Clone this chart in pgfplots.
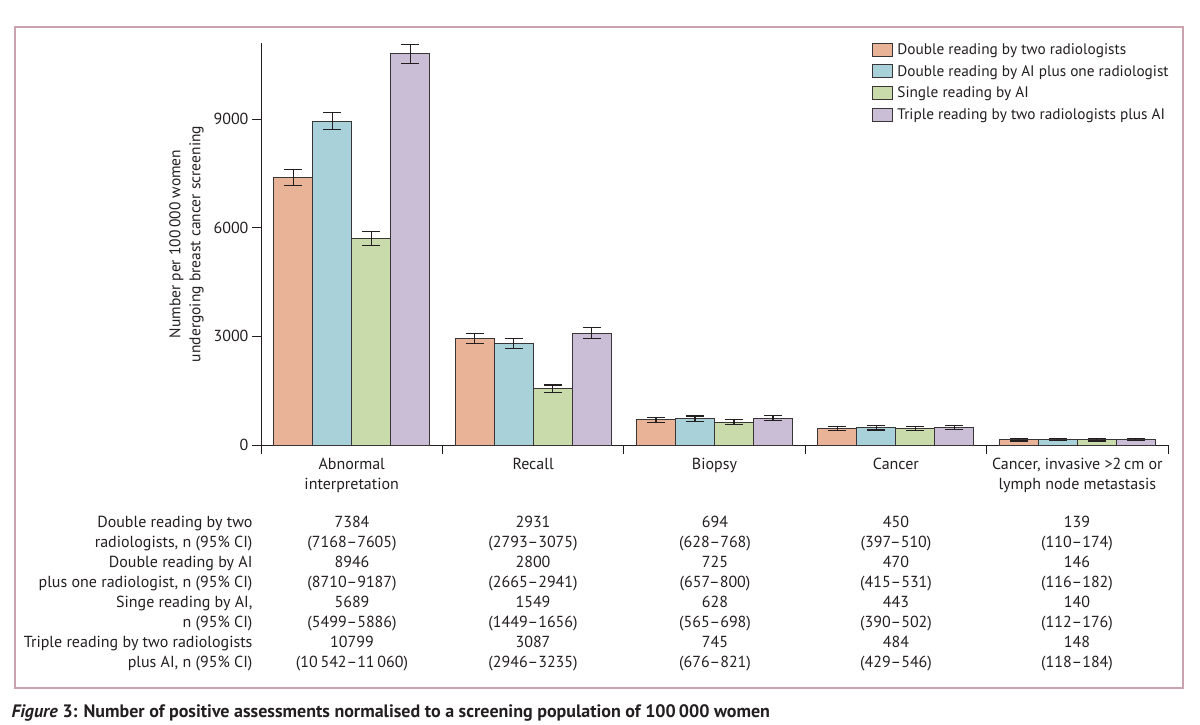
\documentclass[border=0pt]{standalone}
\usepackage{fontspec}
\setmainfont{PT Sans}
\usepackage{pgfplots}
\pgfplotsset{compat=1.18}
\definecolor{cOr}{HTML}{E8B396}
\definecolor{cBl}{HTML}{A8D1DA}
\definecolor{cGr}{HTML}{CADBAB}
\definecolor{cPu}{HTML}{C9BED6}
\definecolor{frame}{HTML}{C9A3AE}
\definecolor{ink}{HTML}{231F20}
\newcommand{\trow}[7]{%
  \node[anchor=base east] at (256pt,#1) {#2};
  \node[anchor=base] at (352pt,#1) {#3};
  \node[anchor=base] at (533pt,#1) {#4};
  \node[anchor=base] at (715pt,#1) {#5};
  \node[anchor=base] at (896pt,#1) {#6};
  \node[anchor=base] at (1077pt,#1) {#7};}
\begin{document}
\begin{tikzpicture}[font=\fontsize{16}{20}\selectfont, text=ink]
\path[use as bounding box] (0pt,0pt) rectangle (1200pt,724pt);
\draw[frame, line width=1.2pt] (15pt,697pt) rectangle (1183pt,36pt);
\begin{axis}[
    at={(261pt,279pt)}, anchor=south west,
    scale only axis, width=907pt, height=402pt,
    axis lines*=left,
    axis line style={ink, line width=1pt},
    xmin=-0.5, xmax=4.5, ymin=0, ymax=11100,
    enlargelimits=false,
    ybar=0pt, bar width=39pt,
    xtick={-0.5,0.5,...,4.5},
    x tick label as interval,
    xticklabels={{Abnormal\\interpretation}, Recall, Biopsy, Cancer, {Cancer, invasive >2\,cm or\\lymph node metastasis}},
    xticklabel style={align=center, yshift=-1pt},
    ytick={0,3000,6000,9000},
    scaled y ticks=false,
    yticklabel style={/pgf/number format/1000 sep={}},
    /pgf/number format/assume math mode=true,
    tick align=outside,
    major tick length=9pt,
    tick style={ink, line width=1pt},
    tick label style={font=\fontsize{16}{20}\selectfont, text=ink},
    ylabel={Number per 100\,000 women\\undergoing breast cancer screening},
    ylabel style={align=center, at={(axis description cs:-0.0821,0.5)}, anchor=center, font=\fontsize{15.5}{20}\selectfont},
    legend style={draw=none, fill=none, at={(axis description cs:0.670,1.009)}, anchor=north west,
        font=\fontsize{15.3}{20}\selectfont, row sep=5.3pt, legend cell align=left},
    legend image code/.code={\draw[#1, line width=1pt] (0pt,-6.5pt) rectangle (20pt,6.5pt); \path[draw=none, fill=none] (0pt,0pt) -- (23pt,0pt);},
    error bars/y dir=both,
    error bars/y explicit,
    error bars/error bar style={ink, line width=1.2pt},
    error bars/error mark options={ink, line width=1.2pt, mark size=9pt, rotate=90},
    every axis plot/.append style={draw=ink!90, line width=1pt},
]
\addplot[fill=cOr] coordinates {
 (0,7384) += (0,221) -= (0,216)
 (1,2931) += (0,144) -= (0,138)
 (2,694)  += (0,74)  -= (0,66)
 (3,450)  += (0,60)  -= (0,53)
 (4,139)  += (0,35)  -= (0,29)
};
\addplot[fill=cBl] coordinates {
 (0,8946) += (0,241) -= (0,236)
 (1,2800) += (0,141) -= (0,135)
 (2,725)  += (0,75)  -= (0,68)
 (3,470)  += (0,61)  -= (0,55)
 (4,146)  += (0,36)  -= (0,30)
};
\addplot[fill=cGr] coordinates {
 (0,5689) += (0,197) -= (0,190)
 (1,1549) += (0,107) -= (0,100)
 (2,628)  += (0,70)  -= (0,63)
 (3,443)  += (0,59)  -= (0,53)
 (4,140)  += (0,36)  -= (0,28)
};
\addplot[fill=cPu] coordinates {
 (0,10799) += (0,261) -= (0,257)
 (1,3087)  += (0,148) -= (0,141)
 (2,745)   += (0,76)  -= (0,69)
 (3,484)   += (0,62)  -= (0,55)
 (4,148)   += (0,36)  -= (0,30)
};
\legend{Double reading by two radiologists, Double reading by AI plus one radiologist, Single reading by AI, Triple reading by two radiologists plus AI}
\end{axis}
\trow{197pt}{Double reading by two}{7384}{2931}{694}{450}{139}
\trow{177pt}{radiologists, n (95\% CI)}{(7168–7605)}{(2793–3075)}{(628–768)}{(397–510)}{(110–174)}
\trow{157pt}{Double reading by AI}{8946}{2800}{725}{470}{146}
\trow{137pt}{plus one radiologist, n (95\% CI)}{(8710–9187)}{(2665–2941)}{(657–800)}{(415–531)}{(116–182)}
\trow{117pt}{Singe reading by AI,}{5689}{1549}{628}{443}{140}
\trow{97pt}{n (95\% CI)}{(5499–5886)}{(1449–1656)}{(565–698)}{(390–502)}{(112–176)}
\trow{77pt}{Triple reading by two radiologists}{10799}{3087}{745}{484}{148}
\trow{57pt}{plus AI, n (95\% CI)}{(10\,542–11\,060)}{(2946–3235)}{(676–821)}{(429–546)}{(118–184)}
\node[anchor=base west, font=\fontsize{18}{20}\selectfont\bfseries] at (8pt,7pt) {\textit{Figure} 3: Number of positive assessments normalised to a screening population of 100\,000 women};
\end{tikzpicture}
\end{document}
